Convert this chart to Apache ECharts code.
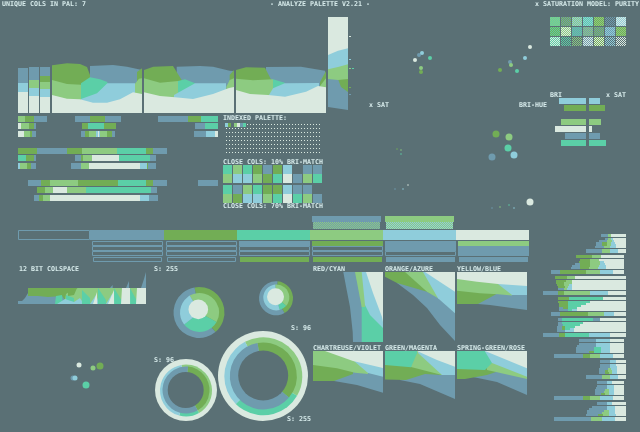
<!DOCTYPE html>
<html>
<head>
<meta charset="utf-8">
<title>analyze palette</title>
<style>
html, body { margin: 0; padding: 0; background: #5a7075; }
#main { width: 640px; height: 432px; }
</style>
<script src="https://cdn.jsdelivr.net/npm/echarts@6/dist/echarts.min.js"></script>
</head>
<body>
<div id="main"></div>
<script>
// palette keys: b steel, g dark green, t teal, L light green, l light blue, w white, k background
var palette = { b: '#6f9bae', g: '#72ad55', t: '#5bcfa7', L: '#8dcb81', l: '#8fcddb', w: '#dae9e0', k: '#5a7075' };
var textCol = '#d8ecec';

// ---- data ----
// histogram rows: start, colour, end, colour, end ...  ('_' = nothing)
var histTopLeft = [[0,'L',7,'g',16,'b',29], [0,'w',3,'L',11,'g',16,'b',18], [0,'w',6,'L',12,'g',14,'b',18]];
var histTopMid = [[0,'b',15,'g',30,'b',46], [7,'g',13,'t',29,'g',41], [6,'b',10,'g',14,'L',21,'l',23,'w',24,'l',25,'L',32,'g',37,'b',40]];
var histTopRight = [[0,'b',30,'g',43,'t',60], [37,'b',47,'t',60], [36,'b',48,'l',57,'w',60]];
var histMidA = [
  [0,'g',19,'b',49,'g',64,'L',99,'t',128,'g',135,'b',149],
  [0,'t',8,'g',16,'b',18,'_',57,'b',63,'g',65,'L',74,'w',101,'t',132,'b',138],
  [0,'l',2,'L',9,'g',13,'b',18,'_',53,'b',63,'L',71,'w',122,'l',129,'g',130,'b',138]
];
var histMidB = [
  [10,'b',23,'g',32,'L',60,'g',100,'t',128,'g',135,'b',149,'_',180,'b',200],
  [19,'g',27,'L',35,'w',49,'L',68,'t',133,'b',139],
  [16,'b',21,'g',25,'L',32,'w',122,'l',131,'b',140]
];

// three thin brightness columns
var thinCats = ['a', 'b', 'c'];
var thinWhite = [21, 17, 16];
var thinBlue = [9, 8, 8];
var thinLight = [0, 8, 7];
var thinDark = [0, 0, 6];
var thinSteel = [15, 13, 9];

// bri-hue maps: colour, then the upper edge of that colour as [hue, bri]
var briHueA = [
  ['b', [[38,47],[61,48],[75,46.3],[90,43]]],
  ['g', [[0,47.7],[15,49.7],[28,49],[35,46],[38,38]]],
  ['g', [[85,41],[90,44.7]]],
  ['L', [[0,33],[15,29],[29,28.3]]],
  ['L', [[82,28],[87,34.3],[90,34.7]]],
  ['t', [[29,29.7],[38,35.7],[48,33.7],[55.3,31]]],
  ['l', [[29,14],[45,19.7],[55.3,29.7],[83,29.7]]],
  ['w', [[0,18],[15,14.3],[28,13.7],[41,10.3],[55,10.3],[68,13.7],[81,20.7],[90,19]]]
];
var briHueB = [
  ['b', [[32.7,46.3],[56,47],[69,46.3],[85.7,42.3],[90,42]]],
  ['g', [[0,43],[9.3,46.3],[29,47],[37.7,33]]],
  ['g', [[85.7,38],[90,43]]],
  ['L', [[0,34.7],[16,30.3],[34.3,32]]],
  ['L', [[82.3,26.3],[85.7,33],[90,34.7]]],
  ['t', [[34,32],[41,33.7],[51,29.7]]],
  ['l', [[30,18],[34,20.3],[51,29.7],[82,29.7]]],
  ['w', [[0,20.7],[16,17],[31,15.7],[49,14],[69,19],[85,25],[90,26]]]
];
var briHueC = [
  ['b', [[30,46],[65,46.3],[89,42.3],[90,42]]],
  ['g', [[0,43],[10,45.7],[29,45.3],[35.3,33]]],
  ['g', [[84,31],[90,42]]],
  ['L', [[0,34.3],[17,32.7],[37,33.7]]],
  ['L', [[83,25.7],[90,34.7]]],
  ['t', [[37,33.7],[48.7,30.3]]],
  ['l', [[33,18],[37,24.7],[48.7,29.7],[83,30]]],
  ['w', [[0,23],[14,19],[32,18],[49,16.3],[70,21.3],[82,27],[90,25.7]]]
];
// upright map, lower edges measured from its top
var briColumn = [
  ['b', [[0,90],[20,93]]],
  ['g', [[10,62],[13,70],[20,75]]],
  ['L', [[0,62],[10,63],[20,62]]],
  ['t', [[19,62],[20,62]]],
  ['l', [[0,52.3],[10,50],[20,47.3]]],
  ['w', [[0,38],[10,33.7],[20,31.3]]]
];
var briTicks = [['w',36,0],['l',59,0],['L',68,0],['t',68,3],['g',87,0],['b',94,0]];

// hue pair wedges, lower edges measured from the top
var redCyan = [
  ['b', [[30.3,0],[33.7,18],[37,35],[39.7,60],[40,70],[70,70]]],
  ['t', [[48.7,70],[70,70]]],
  ['L', [[42,0],[48.7,35],[52,35]]],
  ['l', [[48.7,0],[52,33],[57,43],[70,56]]],
  ['w', [[53,0],[60,21],[69,45],[70,50]]]
];
var orangeAzure = [
  ['b', [[12,11],[28,23],[42,36],[55,53],[70,69]]],
  ['g', [[0,4.7],[12,11],[42,19.7],[46,22]]],
  ['L', [[20,0],[42,19.7],[53,26.3]]],
  ['l', [[38,0],[53,26.3],[70,41.3]]],
  ['w', [[40,0],[52,8],[70,19.7]]]
];
var yellowBlue = [
  ['b', [[21,32],[33,33],[53,35.7],[70,38]]],
  ['g', [[0,32],[21,32],[39,22.3]]],
  ['L', [[0,18.7],[23,21.3],[41,22.3],[55,23.5]]],
  ['l', [[41,12],[55,23],[70,23]]],
  ['w', [[0,7],[20,9.7],[41,12],[70,14]]]
];
var chartreuseViolet = [
  ['b', [[21,30],[44,34],[70,41.7]]],
  ['g', [[0,30],[21,30],[40,23]]],
  ['L', [[0,14],[24,17.3],[42,21.7],[55,23]]],
  ['l', [[41,10],[55,22],[70,25.7]]],
  ['w', [[12,0],[40,10],[70,17]]]
];
var greenMagenta = [
  ['b', [[15,29],[35,33],[70,48]]],
  ['g', [[0,28.5],[21,29],[40,23],[57,24]]],
  ['L', [[26,16],[57,24]]],
  ['t', [[0,14],[26,16.3],[32,2.3]]],
  ['l', [[33,2],[57,24],[70,24]]],
  ['w', [[32,0],[52,9],[70,15.7]]]
];
var springRose = [
  ['b', [[16,26],[40,31],[70,44]]],
  ['g', [[0,28],[8,28],[30,24],[39,21]]],
  ['L', [[30,19],[39,21],[70,28]]],
  ['t', [[0,18],[28,19],[35,12]]],
  ['l', [[28,0.5],[35,12],[70,25.7]]],
  ['w', [[28,0],[70,17.3]]]
];

// 12 bit colour space strip, upper edges
var colSpace = [
  ['b', [[0,3],[4,3],[7,6],[10,11],[12,16],[92,16],[94.6,19],[94.7,16],[108,16],[111,23],[111.1,16],[123,16],[126,25],[128,32]]],
  ['g', [[10,16],[128,16]]],
  ['L', [[46,0],[48,10],[54,14],[60,16],[128,16]]],
  ['g', [[50,16],[59,16],[56,9],[50,8]]],
  ['b', [[10,8],[20,8],[30,7],[44,8],[47,4],[50,0]]],
  ['t', [[37,0],[38,8],[44,9],[45,0],[47.9,0],[48,9],[56,6],[56.1,0],[63.9,0],[64,14],[72,6],[72.1,0],[79.9,0],[80,16],[88,4],[88.1,0],[95.9,0],[96,16],[104,3],[104.1,0],[111.9,0],[112,16],[119,3],[119.1,0]]],
  ['l', [[39,0],[47,5],[56,2],[62,6],[63.9,3],[64,0],[72,0],[78,9],[79.9,4],[80,0],[88,0],[94,10],[95.9,4],[96,0]]],
  ['w', [[75,0],[79,12],[79.1,0],[90,0],[96,14],[96.1,0],[103,0],[104,16],[112,16],[112.1,0],[118,0],[119,16],[128,16]]]
];

// hue wheels: sector sizes in degrees
var wheelAOuter = [150, 210], wheelAMid = [149, 113, 98];
var wheelBOuter = [145, 215], wheelBMid = [135, 35, 190];
var wheelCMid = [148, 105, 107], wheelCInner = [140, 220];
var wheelDMid = [160, 45, 155], wheelDInner = [145, 215];

// dots in hue/sat planes: colour, x, y, size
var dotsTopA = [['w',5,15,4],['b',9,10,4],['l',12,8,4],['L',11,23,4],['g',11,27,4],['t',20,13,4]];
var dotsTopB = [['w',35,5,4],['l',30,16,4],['b',15,20,4],['L',16,23,4],['g',5,28,4],['t',22,29,4]];
var dotsMid = [['g',11,6,7],['L',24,9,7],['t',23,20,7],['l',29,27,7],['b',7,29,7]];
var dotsLow = [['w',14,5,5],['L',28,8,5],['g',35,6,7],['b',8,18,5],['l',10,18,5],['t',21,25,7]];
var dotsFaintA = [['g',7,4,1.5],['L',11,5,1.5],['t',11,9,1.5],['b',5,44,1.5],['l',13,44,1.5],['w',18,40,1.5]];
var dotsFaintB = [['w',45,7,7],['b',7,13,1.5],['L',15,12,1.5],['t',24,10,1.5],['l',29,13,1.5]];

// saturation/brightness bars, one per palette slot
var slotCats = ['l', 'g', 'k', 'L', 'w', 'b', 't'];
var briBars = [27, 22, 0, 25, 31, 21, 25];
var satBars = [11, 16, 0, 12, 3, 11, 17];

// dither swatches (colour pairs)
var ditherRows = [
  ['tL', 'gb', 'Ll', 'tl', 'Lg', 'bk', 'lw'],
  ['gt', 'Lw', 'tb', 'Lb', 'gb', 'lb', 'Lg'],
  ['tw', 'tk', 'Lk', 'wb', 'gw', 'lk', 'wk']
];
// close colour pairs
var close10 = [['t','L','t','g','b','g','l','_','b','b'], ['L','l','l','L','g','t','w','b','L','t']];
var close70 = [['t','b','L','t','g','g','l','b','b','_'], ['L','g','l','l','L','t','w','t','L','b']];
var indexedSlots = ['l', 'g', '_', 'L', 'w', 'b', 't'];

// the long colour band and the little gauges below it, 'o' = only outlined
var bandCols = ['o', 'b', 'g', 't', 'L', 'l', 'w'];
var gaugeCols = [
  ['o','o','o','o'], ['o','o','o','o'], ['b','o','o','g'],
  ['g','o','o','g'], ['b','b','o','b'], ['L','b','b','b']
];
var capCols = [null, null, null, ['b','bL'], ['L','Ll'], null];

// right column of hue slices: top bar, five rows, bottom bar
var slices = [
  [[71,'b',78,'L',81,'w',96],[75,'b',78,'L',81,'l',83,'w',96],[69,'b',77,'L',82,'l',84,'w',96],[66,'b',72,'g',77,'L',81,'l',85,'w',96],[66,'b',72,'g',77,'L',81,'l',86,'w',96],[65,'b',74,'L',80,'l',86,'w',96],[56,'b',72,'L',80,'l',88,'w',96]],
  [[46,'g',62,'L',71,'w',94],[50,'g',60,'L',69,'w',94],[49,'g',60,'L',70,'l',74,'w',94],[45,'b',50,'g',60,'L',70,'l',75,'w',94],[42,'b',50,'g',60,'L',69,'l',76,'w',94],[41,'b',50,'g',59,'L',68,'l',76,'w',94],[21,'b',30,'g',56,'L',70,'l',83,'w',94]],
  [[25,'g',37,'L',45,'w',96],[26,'g',36,'L',42,'w',96],[26,'g',34,'L',42,'w',96],[27,'g',34,'L',39,'l',42,'w',96],[28,'g',35,'L',38,'l',42,'w',96],[28,'b',34,'L',37,'l',42,'w',96],[13,'b',28,'g',34,'L',60,'l',78,'w',96]],
  [[28,'g',39,'t',73,'w',96],[28,'g',38,'t',60,'w',96],[29,'g',38,'t',56,'w',96],[29,'g',38,'t',51,'w',96],[29,'b',33,'g',38,'t',47,'w',96],[29,'b',38,'t',42,'l',47,'w',96],[21,'b',30,'g',58,'L',74,'l',84,'w',96]],
  [[28,'b',32,'t',63,'b',70,'w',96],[28,'b',32,'t',53,'w',96],[28,'b',33,'t',50,'w',96],[27,'b',32,'g',35,'t',45,'w',96],[27,'b',32,'g',35,'t',40,'l',44,'w',96],[27,'b',35,'l',44,'w',96],[13,'b',29,'g',35,'t',59,'l',80,'w',96]],
  [[49,'b',66,'l',80,'w',94],[49,'b',66,'l',80,'w',94],[47,'b',66,'l',80,'w',94],[46,'b',64,'t',71,'l',80,'w',94],[46,'b',64,'t',71,'l',80,'w',94],[46,'b',59,'g',64,'t',71,'l',80,'w',94],[24,'b',53,'g',60,'L',70,'l',83,'w',94]],
  [[70,'b',80,'l',86,'w',96],[70,'b',80,'l',86,'w',96],[70,'b',80,'l',87,'w',96],[69,'b',78,'L',81,'l',87,'w',96],[69,'b',75,'g',78,'L',82,'l',87,'w',96],[69,'b',75,'g',79,'L',82,'l',87,'w',96],[56,'b',72,'L',80,'l',88,'w',96]],
  [[67,'b',77,'l',82,'w',94],[67,'b',77,'l',84,'w',94],[66,'b',77,'l',84,'w',94],[65,'b',75,'L',79,'l',84,'w',94],[65,'b',74,'L',79,'l',84,'w',94],[65,'b',71,'g',75,'L',79,'l',84,'w',94],[24,'b',53,'g',60,'L',70,'l',83,'w',94]],
  [[67,'b',77,'l',82,'w',96],[62,'b',77,'l',85,'w',96],[59,'b',77,'l',85,'w',96],[57,'b',74,'L',79,'l',85,'w',96],[57,'b',72,'L',79,'l',85,'w',96],[56,'b',68,'g',73,'L',79,'l',86,'w',96],[24,'b',61,'L',72,'l',85,'w',96]]
];

// ---- builders ----
var grids = [], xAxes = [], yAxes = [], series = [], texts = [];

function panel (left, top, w, h, flip) {
  var i = grids.length;
  grids.push({ left: left, top: top, width: w, height: h });
  xAxes.push({ type: 'value', gridIndex: i, min: 0, max: w, show: false });
  yAxes.push({ type: 'value', gridIndex: i, min: 0, max: h, inverse: !!flip, show: false });
  return i;
}

// checker pattern for a two letter colour key
function checker (a, b) {
  var c = document.createElement('canvas');
  c.width = 2; c.height = 2;
  var g = c.getContext('2d');
  g.fillStyle = palette[a]; g.fillRect(0, 0, 2, 2);
  g.fillStyle = palette[b]; g.fillRect(0, 0, 1, 1); g.fillRect(1, 1, 1, 1);
  return { image: c, repeat: 'repeat' };
}
function fillOf (key) {
  return key.length === 2 ? checker(key[0], key[1]) : palette[key];
}

// rectangles on a panel: [x0, x1, y0, y1, colour]
function rects (p, items) {
  items = items.filter(function (r) { return r[4] !== '_'; });
  var fills = items.map(function (r) { return r[4] === 'o' ? null : fillOf(r[4]); });
  series.push({
    type: 'custom', xAxisIndex: p, yAxisIndex: p, silent: true, clip: false,
    encode: { x: [0, 1], y: [2, 3] },
    data: items.map(function (r) { return r.slice(0, 4); }),
    renderItem: function (params, api) {
      var a = api.coord([api.value(0), api.value(2)]);
      var b = api.coord([api.value(1), api.value(3)]);
      var x = Math.round(a[0]), y = Math.round(a[1]);
      var w = Math.round(b[0]) - x, h = Math.round(b[1]) - y;
      var fill = fills[params.dataIndex];
      if (!fill) {
        return { type: 'rect', shape: { x: x + 0.5, y: y + 0.5, width: w - 1, height: h - 1 },
          style: { fill: null, stroke: palette.b, lineWidth: 1 } };
      }
      return { type: 'rect', shape: { x: x, y: y, width: w, height: h }, style: { fill: fill } };
    }
  });
}

// painted areas, later entries cover earlier ones
function bands (p, list) {
  list.forEach(function (b) {
    series.push({
      type: 'line', xAxisIndex: p, yAxisIndex: p, silent: true, symbol: 'none', data: b[1],
      lineStyle: { width: 0, opacity: 0 },
      areaStyle: { color: palette[b[0]], opacity: 1, origin: 'start' }
    });
  });
}

// histogram style rows to rectangles, tops/heights come from the panel layout
function rowItems (rows, tops, heights) {
  var out = [];
  rows.forEach(function (row, i) {
    for (var j = 1; j < row.length; j += 2) {
      out.push([row[j - 1], row[j + 1], tops[i], tops[i] + heights[i], row[j]]);
    }
  });
  return out;
}

function dots (left, top, w, h, list) {
  var p = panel(left, top, w, h, true);
  series.push({
    type: 'scatter', xAxisIndex: p, yAxisIndex: p, silent: true,
    data: list.map(function (d) {
      return { value: [d[1], d[2]], symbolSize: d[3], itemStyle: { color: palette[d[0]], opacity: 1 } };
    })
  });
}

function wheel (center, radius, start, keys, values) {
  series.push({
    type: 'pie', center: center, radius: radius, startAngle: start, silent: true,
    label: { show: false }, labelLine: { show: false },
    itemStyle: { borderWidth: 0 },
    data: values.map(function (v, i) { return { value: v, itemStyle: { color: palette[keys[i]] } }; })
  });
}

function label (s, x, y) {
  texts.push({ type: 'text', x: x, y: y, silent: true,
    style: { text: s, fill: textCol, font: 'bold 6.65px "DejaVu Sans Mono"', verticalAlign: 'middle' } });
}

// ---- layout ----
var threeRows = [0, 7, 15], threeHeights = [6, 6, 6];
rects(panel(18, 116, 40, 21, true), rowItems(histTopLeft, threeRows, threeHeights));
rects(panel(75, 116, 50, 21, true), rowItems(histTopMid, threeRows, threeHeights));
rects(panel(158, 116, 60, 21, true), rowItems(histTopRight, threeRows, threeHeights));
rects(panel(18, 148, 150, 21, true), rowItems(histMidA, threeRows, threeHeights));
rects(panel(18, 180, 200, 21, true), rowItems(histMidB, threeRows, threeHeights));

// thin stacked columns
var thinIdx = grids.length;
grids.push({ left: 17.5, top: 67, width: 33, height: 46 });
xAxes.push({ type: 'category', gridIndex: thinIdx, data: thinCats, show: false });
yAxes.push({ type: 'value', gridIndex: thinIdx, min: 0, max: 46, show: false });
[[thinWhite, 'w'], [thinBlue, 'l'], [thinLight, 'L'], [thinDark, 'g'], [thinSteel, 'b']].forEach(function (s) {
  series.push({ type: 'bar', xAxisIndex: thinIdx, yAxisIndex: thinIdx, stack: 'thin', barWidth: 10, silent: true,
    data: s[0], itemStyle: { color: palette[s[1]] } });
});

bands(panel(52, 63, 90, 50), briHueA);
bands(panel(144, 63, 90, 50), briHueB);
bands(panel(236, 63, 90, 50), briHueC);
bands(panel(328, 17, 20, 93, true), briColumn);
rects(panel(349, 0, 6, 110, true), briTicks.map(function (t) { return [t[2], t[2] + 2, t[1], t[1] + 1, t[0]]; }));

bands(panel(313, 272, 70, 72, true), redCyan);
bands(panel(385, 272, 70, 72, true), orangeAzure);
bands(panel(457, 272, 70, 72, true), yellowBlue);
bands(panel(313, 351, 70, 72, true), chartreuseViolet);
bands(panel(385, 351, 70, 72, true), greenMagenta);
bands(panel(457, 351, 70, 72, true), springRose);

bands(panel(18, 272, 128, 32), colSpace);

// wheels, bottom layer first
wheel([199, 312.5], 25.5, 100, 'gb', wheelAOuter);
wheel([199.5, 312.5], 19.5, 120, 'Ltl', wheelAMid);
wheel([198.3, 309.4], 9.8, 90, 'w', [1]);
wheel([276, 298.3], 17, 85, 'gb', wheelBOuter);
wheel([276.3, 297.5], 13, 95, 'Ltl', wheelBMid);
wheel([275.5, 296.7], 8.5, 90, 'w', [1]);
wheel([263, 376], 45, 90, 'w', [1]);
wheel([263.3, 376.3], 39, 118, 'Ltl', wheelCMid);
wheel([263.3, 376], 33.5, 100, 'gb', wheelCInner);
wheel([263.2, 375.5], 25, 90, 'k', [1]);
wheel([186, 390], 31, 90, 'w', [1]);
wheel([186, 390.5], 26, 100, 'Ltl', wheelDMid);
wheel([186, 390], 23.5, 85, 'gb', wheelDInner);
wheel([185.7, 390], 18, 90, 'k', [1]);

dots(410, 45, 25, 30, dotsTopA);
dots(495, 42, 40, 32, dotsTopB);
dots(485, 128, 35, 35, dotsMid);
dots(65, 360, 40, 30, dotsLow);
dots(390, 145, 25, 50, dotsFaintA);
dots(485, 195, 50, 15, dotsFaintB);

// bri / sat bars
[[552, 34, briBars, true], [589, 34, satBars, false]].forEach(function (b) {
  var i = grids.length;
  grids.push({ left: b[0], top: 97.5, width: b[1], height: 49 });
  xAxes.push({ type: 'value', gridIndex: i, min: 0, max: b[1], inverse: b[3], show: false });
  yAxes.push({ type: 'category', gridIndex: i, inverse: true, data: slotCats, show: false });
  series.push({ type: 'bar', xAxisIndex: i, yAxisIndex: i, barWidth: 6, silent: true,
    data: b[2].map(function (v, k) { return { value: v, itemStyle: { color: palette[slotCats[k]] } }; }) });
});

// dither swatches
var ditherItems = [];
ditherRows.forEach(function (row, r) {
  row.forEach(function (k, c) { ditherItems.push([c * 11, c * 11 + 10, r * 10, r * 10 + 9, k]); });
});
rects(panel(550, 17, 76, 29, true), ditherItems);

// indexed palette slots
var slotItems = [];
for (var r = 0; r < 8; r++) {
  for (var c = 0; c < 32; c++) {
    if (r === 0 && c < indexedSlots.length) {
      slotItems.push([c * 3, c * 3 + 3, 0, 4, indexedSlots[c]]);
    } else {
      slotItems.push([c * 3 + 1, c * 3 + 2, r * 4 + 1, r * 4 + 2, 'w']);
    }
  }
}
rects(panel(225, 123, 96, 32, true), slotItems);

// close colour grids
function closeItems (rows) {
  var out = [];
  rows.forEach(function (row, r) {
    row.forEach(function (k, c) { out.push([c * 10, c * 10 + 9, r * 9, r * 9 + 9, k]); });
  });
  return out;
}
rects(panel(223, 165, 100, 18, true), closeItems(close10));
rects(panel(223, 185, 100, 18, true), closeItems(close70));

// long band, gauges and caps
var bandEdges = [0, 72, 146, 219, 292, 365, 438, 511];
var gaugeTop = [25, 30, 35, 41], gaugeBottom = [30, 35, 40, 46];
var bandItems = [];
bandCols.forEach(function (k, i) { bandItems.push([bandEdges[i], bandEdges[i + 1], 14, 24, k]); });
gaugeCols.forEach(function (col, i) {
  var x0 = bandEdges[i + 1];
  col.forEach(function (k, j) {
    var inset = j === 3 ? 1 : 0;
    bandItems.push([x0 + 2 + inset, x0 + 73 - inset, gaugeTop[j], gaugeBottom[j], k]);
  });
  if (capCols[i]) {
    bandItems.push([x0 + 2, x0 + 71, 0, 6, capCols[i][0]]);
    bandItems.push([x0 + 3, x0 + 70, 6, 13, capCols[i][1]]);
  }
});
rects(panel(18, 216, 511, 47, true), bandItems);

// right column
var sliceTops = [0, 4, 6, 8, 10, 12, 15], sliceHeights = [3, 2, 2, 2, 2, 2, 4];
slices.forEach(function (rows, g) {
  rects(panel(530, 234 + g * 21, 96, 19, true), rowItems(rows, sliceTops, sliceHeights));
});

label('UNIQUE COLS IN PAL: 7', 2, 4);
label('- ANALYZE PALETTE V2.21 -', 270, 4);
label('x SATURATION MODEL: PURITY', 535, 4);
label('x SAT', 369, 105);
label('BRI-HUE', 519, 105);
label('BRI', 550, 95);
label('x SAT', 606, 95);
label('INDEXED PALETTE:', 223, 118);
label('CLOSE COLS: 10% BRI-MATCH', 223, 162);
label('CLOSE COLS: 70% BRI-MATCH', 223, 206);
label('12 BIT COLSPACE', 19, 269);
label('S: 255', 154, 269);
label('S: 96', 291, 328);
label('S: 96', 154, 360);
label('S: 255', 287, 419);
label('RED/CYAN', 313, 269);
label('ORANGE/AZURE', 385, 269);
label('YELLOW/BLUE', 457, 269);
label('CHARTREUSE/VIOLET', 313, 348);
label('GREEN/MAGENTA', 385, 348);
label('SPRING-GREEN/ROSE', 457, 348);

var myChart = echarts.init(document.getElementById('main'));
myChart.setOption({
  animation: false,
  backgroundColor: palette.k,
  tooltip: { show: false },
  grid: grids,
  xAxis: xAxes,
  yAxis: yAxes,
  series: series,
  graphic: texts
});
</script>
</body>
</html>
